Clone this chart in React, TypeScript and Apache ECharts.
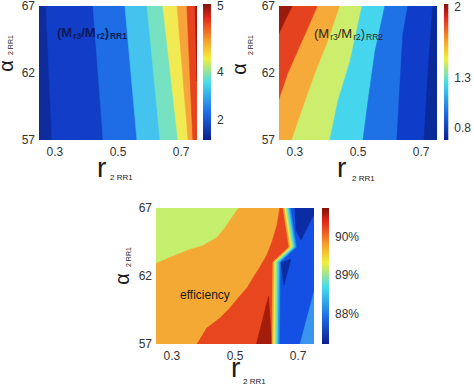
import React, { useEffect, useRef } from "react";
import * as echarts from "echarts";

type Pt = [number, number];

// shared axes
const rMin = 0.25;
const rMax = 0.75;
const aMin = 57;
const aMax = 67;
const rTicks = [0.3, 0.5, 0.7];
const aTicks = [57, 62, 67];

// Panel 1: (Mr3/Mr2)RR1 filled-contour regions, painted in order
const p1Colors = ["#0e2c9e", "#123dc6", "#1e6de6", "#43c3ee", "#76e2c2", "#f2ea52", "#f7a53a", "#e6431e", "#a11a0c"];
const p1Regions: Pt[][] = [
  [[0.25, 67], [0.75, 67], [0.75, 57], [0.25, 57]],
  [[0.272, 67], [0.75, 67], [0.75, 57], [0.291, 57]],
  [[0.421, 67], [0.75, 67], [0.75, 57], [0.453, 57]],
  [[0.522, 67], [0.75, 67], [0.75, 57], [0.56, 57]],
  [[0.592, 67], [0.75, 67], [0.75, 57], [0.633, 57]],
  [[0.642, 67], [0.75, 67], [0.75, 57], [0.69, 57]],
  [[0.687, 67], [0.75, 67], [0.75, 57], [0.722, 57]],
  [[0.718, 67], [0.75, 67], [0.75, 57], [0.737, 57]],
  [[0.744, 67], [0.75, 67], [0.75, 61.4]],
];

// Panel 2: (Mr3/Mr2)RR2
const p2Colors = ["#9c1a0c", "#e5431f", "#f5aa3a", "#cdee6c", "#45d6ee", "#1f72e6", "#0f3cc8", "#0b2a9a"];
const p2Regions: Pt[][] = [
  [[0.25, 67], [0.75, 67], [0.75, 57], [0.25, 57]],
  [[0.25, 64.87], [0.272, 65.97], [0.294, 67], [0.75, 67], [0.75, 57], [0.25, 57]],
  [[0.25, 59.94], [0.2785, 61.93], [0.31, 63.62], [0.342, 65.31], [0.373, 67], [0.75, 67], [0.75, 57], [0.25, 57]],
  [[0.291, 57], [0.323, 59.21], [0.364, 61.93], [0.405, 64.35], [0.443, 67], [0.75, 67], [0.75, 57]],
  [[0.411, 57], [0.437, 59.94], [0.475, 62.88], [0.513, 67], [0.75, 67], [0.75, 57]],
  [[0.516, 57], [0.532, 59.94], [0.554, 63.62], [0.585, 67], [0.75, 67], [0.75, 57]],
  [[0.623, 57], [0.633, 61.19], [0.642, 64.87], [0.658, 67], [0.75, 67], [0.75, 57]],
  [[0.709, 57], [0.722, 62.15], [0.737, 67], [0.75, 67], [0.75, 57]],
];

// Panel 3: efficiency
const p3Colors = [
  "#f5a935", "#c5ef6c", "#e8461f", "#a41c0c",
  "#f4a933", "#ecec48", "#8ee6a0", "#3ed2ee", "#2a8eea", "#1450e4",
  "#0c2ca4", "#0c2ca4", "#3a95ee",
];
const p3Regions: Pt[][] = [
  [[0.25, 67], [0.75, 67], [0.75, 57], [0.25, 57]],
  [[0.25, 67], [0.51, 67], [0.494, 66.49], [0.468, 65.6], [0.443, 64.87], [0.399, 64.28], [0.348, 63.91], [0.294, 63.4], [0.25, 62.96]],
  [[0.38, 57], [0.411, 58.18], [0.453, 58.91], [0.484, 59.65], [0.51, 60.38], [0.538, 61.12], [0.557, 61.85], [0.579, 62.66], [0.601, 63.54], [0.617, 64.5], [0.633, 65.75], [0.642, 67], [0.75, 67], [0.75, 57]],
  [[0.568, 57], [0.606, 60.5], [0.616, 57]],
  [[0.652, 67], [0.671, 64.13], [0.62, 63.03], [0.617, 57], [0.75, 57], [0.75, 67]],
  [[0.657, 67], [0.676, 64.13], [0.625, 63.03], [0.622, 57], [0.75, 57], [0.75, 67]],
  [[0.662, 67], [0.681, 64.13], [0.63, 63.03], [0.627, 57], [0.75, 57], [0.75, 67]],
  [[0.667, 67], [0.686, 64.13], [0.635, 63.03], [0.632, 57], [0.75, 57], [0.75, 67]],
  [[0.672, 67], [0.691, 64.13], [0.64, 63.03], [0.637, 57], [0.75, 57], [0.75, 67]],
  [[0.677, 67], [0.696, 64.13], [0.645, 63.03], [0.642, 57], [0.75, 57], [0.75, 67]],
  [[0.69, 67], [0.75, 67], [0.75, 66.56], [0.709, 64.65], [0.693, 65.38]],
  [[0.646, 62.96], [0.677, 63.25], [0.655, 61.34]],
  [[0.706, 57], [0.75, 60.82], [0.75, 57]],
];

// colorbars
const cb1Min = 0;
const cb1Max = 1;
const cb1TickPos = [0.147, 0.5, 0.985];
const cb1TickLabels = ["2", "4", "5"];
const cb2Min = 0.68;
const cb2Max = 2.03;
const cb2Ticks = [0.8, 1.3, 2];
const cb3Min = 87.22;
const cb3Max = 90.75;
const cb3Ticks = [88, 89, 90];
const jetOffsets = [0, 0.1, 0.27, 0.4, 0.58, 0.8, 1];
const jetColors = ["#7f1208", "#e3281a", "#f6a02c", "#f2ee3e", "#46dcea", "#1e6ce6", "#0c1f8e"];

const FONT = "'Liberation Sans', Arial, sans-serif";

export default function App() {
  const ref = useRef<HTMLDivElement>(null);

  useEffect(() => {
    if (!ref.current) return;
    const chart = echarts.init(ref.current, null, { renderer: "svg" });

    const grids = [
      { left: 39, top: 4, width: 158, height: 136 },
      { left: 279, top: 4, width: 158, height: 136 },
      { left: 156, top: 208, width: 158, height: 136 },
      { left: 203, top: 4, width: 8, height: 136 },
      { left: 444, top: 4, width: 7, height: 136 },
      { left: 322, top: 208, width: 7, height: 136 },
    ];

    const mainX = (i: number) => ({
      type: "value",
      gridIndex: i,
      min: rMin,
      max: rMax,
      axisLine: { show: false },
      axisTick: { show: false },
      splitLine: { show: false },
      axisLabel: {
        customValues: rTicks,
        formatter: (v: number) => v.toFixed(1),
        fontSize: 12,
        color: "#333",
        fontFamily: FONT,
        margin: 6,
      },
    });
    const mainY = (i: number) => ({
      type: "value",
      gridIndex: i,
      min: aMin,
      max: aMax,
      axisLine: { show: false },
      axisTick: { show: false },
      splitLine: { show: false },
      axisLabel: {
        customValues: aTicks,
        formatter: (v: number) => String(v),
        fontSize: 12,
        color: "#333",
        fontFamily: FONT,
        margin: 4,
      },
    });
    const cbX = (i: number) => ({ type: "value", gridIndex: i, min: 0, max: 1, show: false });
    const cbY = (i: number, min: number, max: number, ticks: number[], fmt: (v: number) => string) => ({
      type: "value",
      gridIndex: i,
      position: "right",
      min,
      max,
      axisLine: { show: false },
      axisTick: { show: false },
      splitLine: { show: false },
      axisLabel: { customValues: ticks, formatter: fmt, fontSize: 12, color: "#333", fontFamily: FONT, margin: 6 },
    });

    const contour = (i: number, regions: Pt[][], colors: string[]) => ({
      type: "custom",
      xAxisIndex: i,
      yAxisIndex: i,
      silent: true,
      clip: true,
      z: 2,
      data: regions.map((r) => r[0]),
      renderItem: (params: any, api: any) => {
        const k = params.dataIndex;
        const pts = regions[k].map((p) => api.coord(p));
        return {
          type: "polygon",
          shape: { points: pts },
          style: { fill: colors[k], stroke: colors[k], lineWidth: 0.6 },
        };
      },
    });

    const stops = jetOffsets.map((o, k) => ({ offset: o, color: jetColors[k] }));
    const colorbar = (i: number, min: number, max: number) => ({
      type: "custom",
      xAxisIndex: i,
      yAxisIndex: i,
      silent: true,
      z: 2,
      data: [[0, min]],
      renderItem: (_p: any, api: any) => {
        const a = api.coord([0, max]);
        const b = api.coord([1, min]);
        return {
          type: "rect",
          shape: { x: a[0], y: a[1], width: b[0] - a[0], height: b[1] - a[1] },
          style: { fill: new echarts.graphic.LinearGradient(0, 0, 0, 1, stops) },
        };
      },
    });

    const txt = (x: number, y: number, text: string, size: number, extra: any = {}) => ({
      type: "text",
      x,
      y,
      z: 100,
      silent: true,
      rotation: extra.rotation || 0,
      style: {
        text,
        fontSize: size,
        fontFamily: FONT,
        fill: extra.fill || "#1a1a1a",
        align: extra.align || "left",
        verticalAlign: "middle",
        fontWeight: extra.fontWeight || "normal",
        lineHeight: extra.lineHeight,
        rich: extra.rich,
      },
    });
    const subRich = (fill: string, weight: string) => ({
      s: { fontSize: 8.5, fill, fontWeight: weight, fontFamily: FONT, padding: [7, 0, 0, 1] },
    });

    const R = Math.PI / 2;
    const graphic = [
      // x-axis titles
      txt(97, 167, "r", 28, { lineHeight: 16 }),
      txt(110, 177, "2 RR1", 8),
      txt(337, 167, "r", 28, { lineHeight: 16 }),
      txt(352, 178, "2 RR1", 8),
      txt(231, 367, "r", 28, { lineHeight: 14 }),
      txt(243, 381, "2 RR1", 8),
      // y-axis titles
      txt(6, 66, "α", 20, { rotation: R, align: "center", lineHeight: 11 }),
      txt(10.5, 55, "2 RR1", 7, { rotation: R }),
      txt(239, 69, "α", 20, { rotation: R, align: "center", lineHeight: 11 }),
      txt(250.5, 55, "2 RR1", 7, { rotation: R }),
      txt(121.5, 279, "α", 20, { rotation: R, align: "center", lineHeight: 11 }),
      txt(128.5, 267, "2 RR1", 7, { rotation: R }),
      // in-plot labels
      txt(57, 32, "(M{s|r3}/M{s|r2}){s|RR1}", 13, { fill: "#0c1a5c", fontWeight: "bold", rich: subRich("#0c1a5c", "bold") }),
      txt(314, 33, "(M{s|r3}/M{s|r2}){s|RR2}", 13, { fill: "#2c2810", rich: subRich("#2c2810", "normal") }),
      txt(180, 295, "efficiency", 12, { fill: "#1a1a1a" }),
    ];

    chart.setOption({
      animation: false,
      grid: grids,
      xAxis: [mainX(0), mainX(1), mainX(2), cbX(3), cbX(4), cbX(5)],
      yAxis: [
        mainY(0),
        mainY(1),
        mainY(2),
        cbY(3, cb1Min, cb1Max, cb1TickPos, (v: number) => cb1TickLabels[cb1TickPos.indexOf(v)] ?? ""),
        cbY(4, cb2Min, cb2Max, cb2Ticks, (v: number) => String(v)),
        cbY(5, cb3Min, cb3Max, cb3Ticks, (v: number) => v + "%"),
      ],
      series: [
        contour(0, p1Regions, p1Colors),
        contour(1, p2Regions, p2Colors),
        contour(2, p3Regions, p3Colors),
        colorbar(3, cb1Min, cb1Max),
        colorbar(4, cb2Min, cb2Max),
        colorbar(5, cb3Min, cb3Max),
      ],
      graphic,
    });

    return () => chart.dispose();
  }, []);

  return <div ref={ref} style={{ position: "fixed", left: 0, top: 0, width: 474, height: 387, background: "#fff" }} />;
}
